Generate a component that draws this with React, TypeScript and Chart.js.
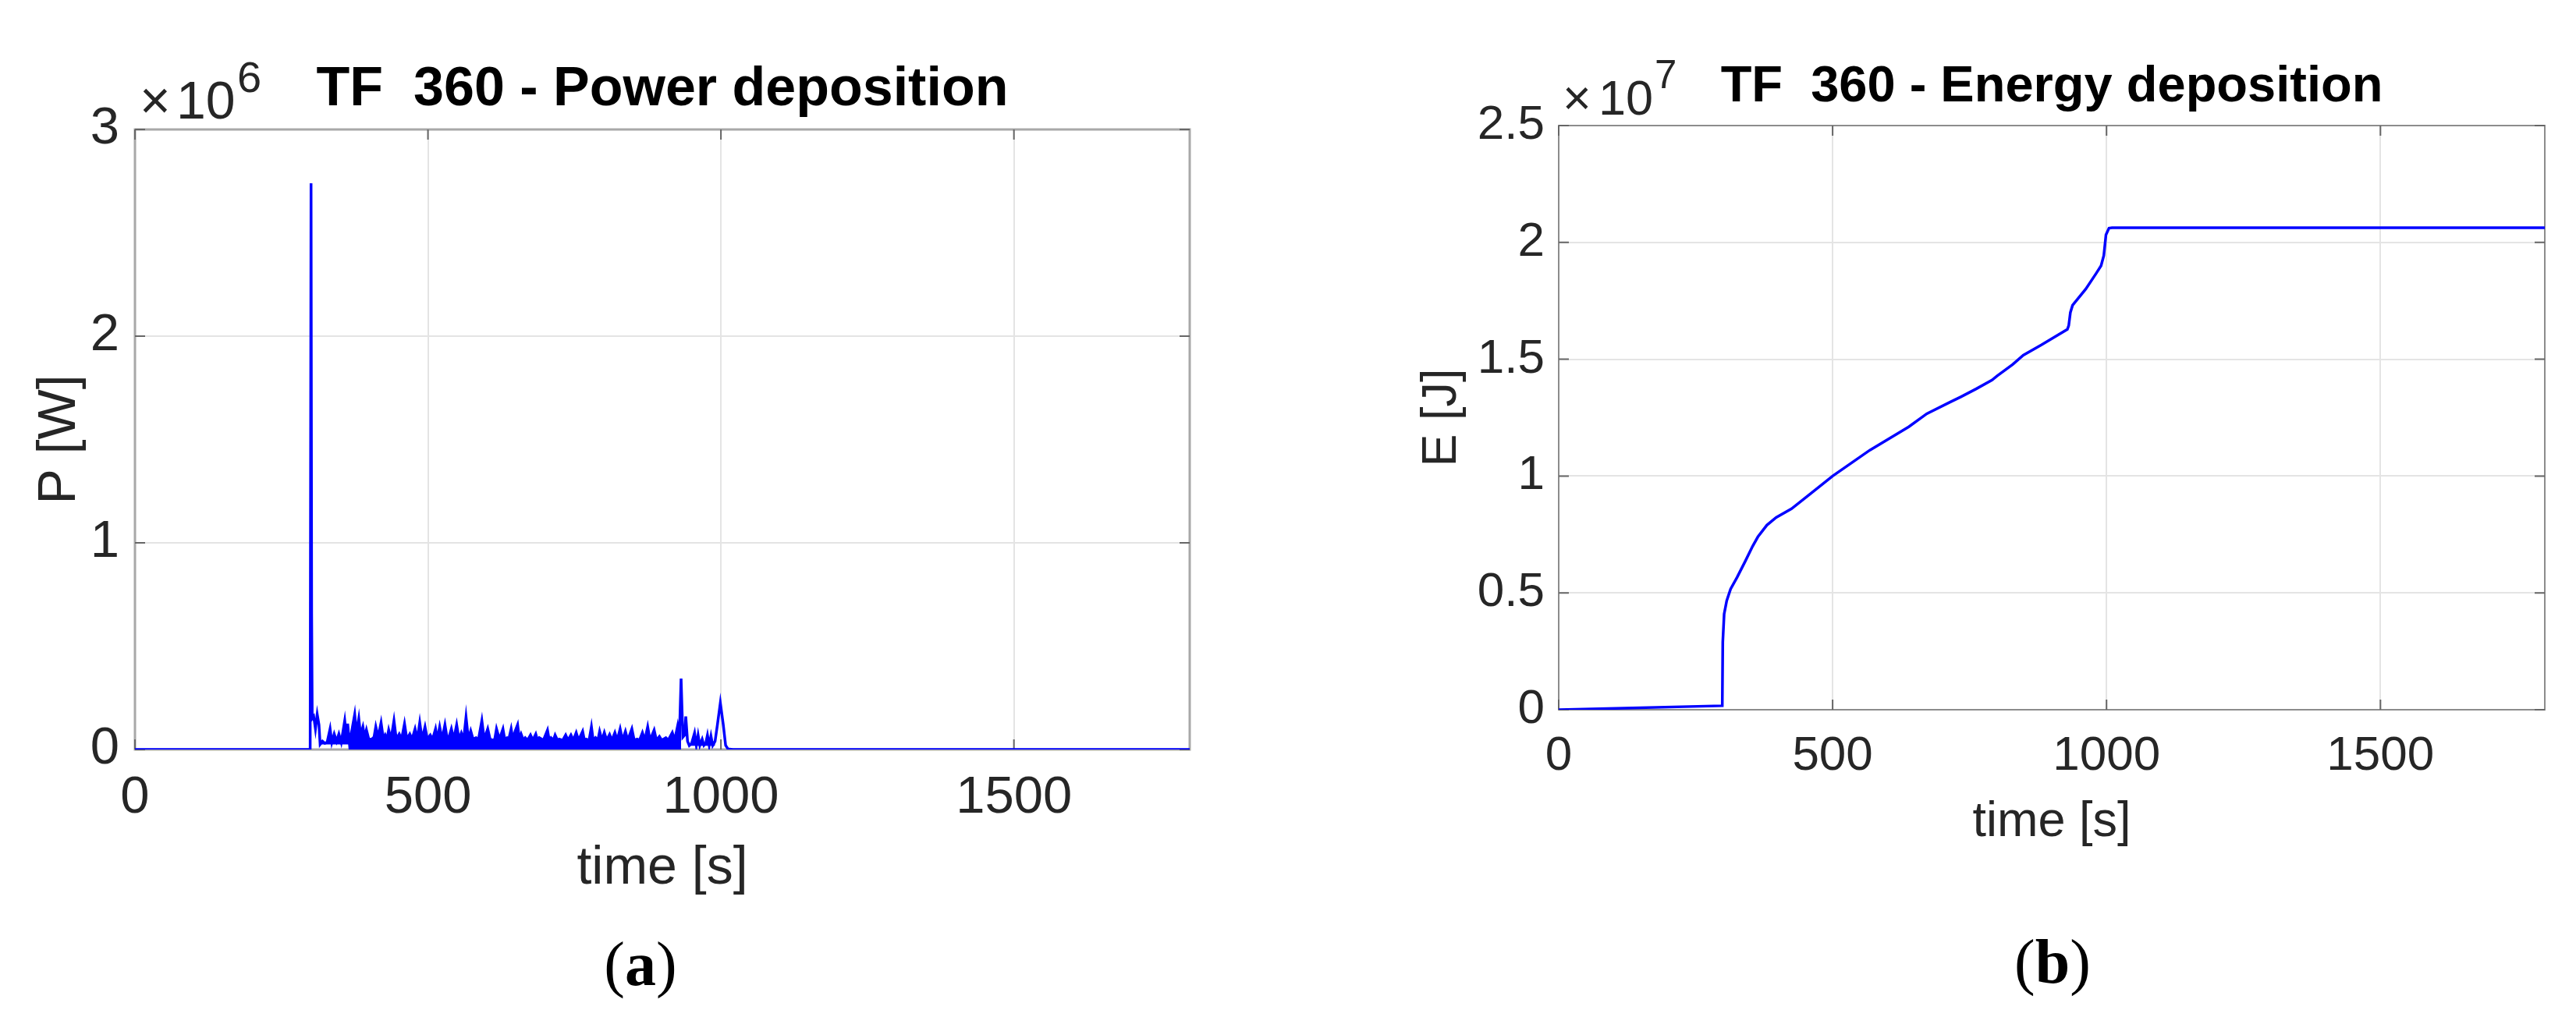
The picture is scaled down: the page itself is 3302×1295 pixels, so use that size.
import React, { useEffect, useRef } from "react";
import { Chart, registerables } from "chart.js";

Chart.register(...registerables);

const SANS = '"Liberation Sans", Arial, Helvetica, sans-serif';
const SERIF = '"Liberation Serif", "Times New Roman", Times, serif';

// ---------- Panel (a): power deposition, P in units of 1e6 W ----------
const powerTime = [
  0, 299, 300.5, 301.5, 302.5, 305, 308, 311, 314, 316, 320, 324, 328, 333, 336, 340, 344, 348, 352, 358, 361, 363, 366,
  370, 375, 378, 382, 385, 389, 392, 395, 399, 404, 408, 411, 415, 420, 424, 427, 430, 433, 437, 442,
  446, 451, 455, 460, 464, 469, 473, 478, 482, 486, 490, 495, 499,
  504, 508, 513, 516, 520, 524, 529, 533, 536, 540, 544, 549, 553, 557, 561, 565, 569, 573, 577, 582,
  586, 592, 596, 602, 606, 611, 614, 617, 622, 628, 631, 635, 638, 642, 645, 649,
  653, 656, 659, 663, 666, 670, 675, 679, 684, 687, 690, 697, 704, 707, 710, 714, 717, 721, 724, 730,
  735, 739, 744, 748, 753, 757, 764, 767, 770, 775, 779, 782, 786, 790, 793, 797, 801, 805, 810, 814,
  819, 823, 828, 832, 837, 841, 848, 852, 857, 861, 866, 870, 875, 879, 886, 890, 895, 899, 906, 910,
  917, 921, 926, 929,
  932, 935, 938, 940, 943, 946, 950, 955, 958, 961, 964, 968, 971, 974, 977, 980, 983, 986, 990, 994,
  999, 1004, 1008, 1012, 1020, 1800,
];
const powerValue = [
  0, 0, 2.74, 0.66, 0.15, 0.16, 0.1, 0.17, 0.12, 0.025, 0.04, 0.03, 0.035, 0.1, 0.035, 0.075, 0.04, 0.075, 0.035, 0.14, 0.06, 0.125, 0.03,
  0.09, 0.17, 0.08, 0.15, 0.07, 0.11, 0.06, 0.095, 0.05, 0.05, 0.06, 0.11, 0.06, 0.13, 0.05, 0.07, 0.05, 0.095, 0.05, 0.14,
  0.05, 0.075, 0.05, 0.125, 0.05, 0.075, 0.05, 0.1, 0.05, 0.13, 0.05, 0.11, 0.05,
  0.07, 0.05, 0.1, 0.05, 0.11, 0.05, 0.12, 0.05, 0.06, 0.1, 0.05, 0.12, 0.05, 0.08, 0.05, 0.157, 0.05, 0.09, 0.05, 0.057,
  0.045, 0.14, 0.05, 0.1, 0.05, 0.045, 0.05, 0.1, 0.05, 0.1, 0.05, 0.057, 0.05, 0.1, 0.05, 0.09,
  0.12, 0.05, 0.075, 0.045, 0.057, 0.045, 0.07, 0.045, 0.075, 0.045, 0.057, 0.045, 0.094, 0.045, 0.057, 0.045, 0.07, 0.045, 0.05, 0.045,
  0.07, 0.045, 0.07, 0.045, 0.082, 0.045, 0.088, 0.045, 0.05, 0.045, 0.11, 0.045, 0.057, 0.045, 0.088, 0.045, 0.082, 0.045, 0.073, 0.045,
  0.082, 0.045, 0.1, 0.045, 0.088, 0.045, 0.1, 0.045, 0.05, 0.045, 0.082, 0.045, 0.11, 0.045, 0.094, 0.045, 0.063, 0.045, 0.057, 0.045,
  0.082, 0.045, 0.113, 0.05,
  0.343, 0.06, 0.07, 0.16, 0.04, 0.019, 0.03, 0.08, 0.02, 0.07, 0.02, 0.05, 0.02, 0.03, 0.07, 0.02, 0.065, 0.02, 0.04, 0.12,
  0.226, 0.12, 0.02, 0.003, 0, 0,
];
// dense-noise stretches drawn as filled bands: [from, to, floor level]
const powerBands = [
  [316, 366, 0.025],
  [366, 932, 0],
  [946, 990, 0.018],
];
const powerYTicks = [0, 1, 2, 3];

// ---------- Panel (b): energy deposition, E in units of 1e7 J ----------
const energyTime = [
  0, 298.6, 299.5, 302, 306.7, 313.8, 325.7, 340, 354, 363.6,
  380, 397, 425, 459, 500, 568, 639, 672, 715, 734,
  762, 791, 800, 829, 848, 881, 928.5, 931, 934, 938,
  962, 981, 990, 995, 999, 1004.5, 1010, 1800,
];
const energyValue = [
  0, 0.017, 0.29, 0.41, 0.467, 0.517, 0.567, 0.633, 0.7, 0.74,
  0.79, 0.823, 0.86, 0.923, 1.0, 1.111, 1.211, 1.267, 1.317, 1.339,
  1.373, 1.411, 1.428, 1.478, 1.517, 1.561, 1.628, 1.644, 1.7, 1.731,
  1.8, 1.867, 1.9, 1.944, 2.033, 2.061, 2.063, 2.063,
];
const energyYTicks = [0, 0.5, 1, 1.5, 2, 2.5];
const timeTicks = [0, 500, 1000, 1500];

const BLUE = "#0000ff";

function toPoints(ts: number[], vs: number[]) {
  return ts.map((t, i) => ({ x: t, y: vs[i] }));
}

const decorPlugin = {
  id: "decor",
  beforeDatasetsDraw(chart: any, _a: any, o: any) {
    const { ctx, chartArea: a } = chart;
    ctx.save();
    ctx.strokeStyle = o.boxColor;
    ctx.lineWidth = o.boxWidth;
    ctx.strokeRect(a.left, a.top, a.right - a.left, a.bottom - a.top);
    ctx.strokeStyle = o.tickColor;
    ctx.lineWidth = 2;
    const L = 13;
    const xs = chart.scales.x;
    const ys = chart.scales.y;
    ctx.beginPath();
    xs.ticks.forEach((t: any) => {
      const px = xs.getPixelForValue(t.value);
      ctx.moveTo(px, a.bottom);
      ctx.lineTo(px, a.bottom - L);
      ctx.moveTo(px, a.top);
      ctx.lineTo(px, a.top + L);
    });
    ys.ticks.forEach((t: any) => {
      const py = ys.getPixelForValue(t.value);
      ctx.moveTo(a.left, py);
      ctx.lineTo(a.left + L, py);
      ctx.moveTo(a.right, py);
      ctx.lineTo(a.right - L, py);
    });
    ctx.stroke();
    ctx.restore();
  },
  afterDraw(chart: any, _a: any, o: any) {
    const { ctx, chartArea: a } = chart;
    const cx = (a.left + a.right) / 2;
    ctx.save();
    ctx.textBaseline = "alphabetic";
    // title
    ctx.fillStyle = "#000";
    ctx.textAlign = "center";
    ctx.font = `bold ${o.titleSize}px ${SANS}`;
    ctx.fillText(o.title, cx, a.top + o.titleDy);
    // exponent  x10^n
    ctx.fillStyle = "#262626";
    ctx.textAlign = "left";
    ctx.font = `${o.expSize}px ${SANS}`;
    ctx.fillText("\u00d7", a.left + o.timesDx, a.top + o.expDy);
    ctx.fillText("10", a.left + o.tenDx, a.top + o.expDy);
    ctx.font = `${o.supSize}px ${SANS}`;
    ctx.fillText(o.sup, a.left + o.supDx, a.top + o.supDy);
    // x label
    ctx.textAlign = "center";
    ctx.font = `${o.labelSize}px ${SANS}`;
    ctx.fillText(o.xLabel, cx, a.bottom + o.xLabelDy);
    // y label
    ctx.save();
    ctx.translate(a.left - o.yLabelDx, (a.top + a.bottom) / 2);
    ctx.rotate(-Math.PI / 2);
    ctx.fillText(o.yLabel, 0, 0);
    ctx.restore();
    // caption  (a) / (b)
    ctx.fillStyle = "#000";
    ctx.textAlign = "left";
    const reg = `${o.capSize}px ${SERIF}`;
    const bold = `bold ${o.capSize}px ${SERIF}`;
    ctx.font = reg;
    const wl = ctx.measureText("(").width;
    const wr = ctx.measureText(")").width;
    ctx.font = bold;
    const wm = ctx.measureText(o.capLetter).width;
    let x = o.capX - (wl + wm + wr) / 2;
    ctx.font = reg;
    ctx.fillText("(", x, o.capY);
    x += wl;
    ctx.font = bold;
    ctx.fillText(o.capLetter, x, o.capY);
    x += wm;
    ctx.font = reg;
    ctx.fillText(")", x, o.capY);
    ctx.restore();
  },
};

function makeConfig(p: any) {
  return {
    type: "line",
    data: { datasets: p.datasets },
    options: {
      animation: false,
      responsive: false,
      maintainAspectRatio: false,
      devicePixelRatio: 1,
      events: [],
      layout: { padding: p.padding },
      elements: { point: { radius: 0 }, line: { tension: 0 } },
      plugins: {
        legend: { display: false },
        tooltip: { enabled: false },
        title: { display: false },
        decor: p.decor,
      },
      scales: {
        x: {
          type: "linear",
          min: 0,
          max: 1800,
          afterBuildTicks: (s: any) => {
            s.ticks = timeTicks.map((v) => ({ value: v }));
          },
          ticks: {
            autoSkip: false,
            maxRotation: 0,
            padding: p.xTickPad,
            color: "#262626",
            font: { family: SANS, size: p.tickSize },
            callback: (v: any) => String(v),
          },
          grid: { color: "#e4e4e4", lineWidth: 2, drawTicks: false },
          border: { display: false },
          afterFit: (s: any) => {
            s.height = p.xAxisHeight;
          },
        },
        y: {
          type: "linear",
          min: p.yTicks[0],
          max: p.yTicks[p.yTicks.length - 1],
          afterBuildTicks: (s: any) => {
            s.ticks = p.yTicks.map((v: number) => ({ value: v }));
          },
          ticks: {
            autoSkip: false,
            padding: p.yTickPad,
            color: "#262626",
            font: { family: SANS, size: p.tickSize },
            callback: (v: any) => String(v),
          },
          grid: { color: "#e4e4e4", lineWidth: 2, drawTicks: false },
          border: { display: false },
          afterFit: (s: any) => {
            s.width = p.yAxisWidth;
          },
        },
      },
    },
    plugins: [decorPlugin],
  };
}

function powerDatasets() {
  const all = toPoints(powerTime, powerValue);
  const bands = powerBands.map(([lo, hi, floor]) => ({
    data: all.filter((pt) => pt.x >= lo && pt.x <= hi),
    borderWidth: 0,
    borderColor: BLUE,
    backgroundColor: BLUE,
    fill: floor === 0 ? "origin" : { value: floor },
    pointRadius: 0,
  }));
  return [
    { data: all, borderColor: BLUE, borderWidth: 3.5, fill: false, pointRadius: 0 },
    ...bands,
  ];
}

export default function App() {
  const aRef = useRef<HTMLCanvasElement>(null);
  const bRef = useRef<HTMLCanvasElement>(null);

  useEffect(() => {
    const ca = new Chart(
      aRef.current as HTMLCanvasElement,
      makeConfig({
        datasets: powerDatasets(),
        padding: { left: 0, top: 166, right: 125, bottom: 0 },
        yAxisWidth: 173,
        xAxisHeight: 334,
        yTicks: powerYTicks,
        tickSize: 67,
        xTickPad: 22,
        yTickPad: 20,
        decor: {
          boxColor: "#a8a8a8",
          boxWidth: 3,
          tickColor: "#666666",
          title: "TF  360 - Power deposition",
          titleSize: 70,
          titleDy: -31,
          expSize: 68,
          timesDx: 6,
          tenDx: 53,
          expDy: -14,
          sup: "6",
          supSize: 56,
          supDx: 131,
          supDy: -48,
          labelSize: 68,
          xLabel: "time [s]",
          xLabelDy: 172,
          yLabel: "P [W]",
          yLabelDx: 77,
          capSize: 80,
          capLetter: "a",
          capX: 821,
          capY: 1263,
        },
      }) as any
    );
    const cb = new Chart(
      bRef.current as HTMLCanvasElement,
      makeConfig({
        datasets: [
          {
            data: toPoints(energyTime, energyValue),
            borderColor: BLUE,
            borderWidth: 3.5,
            fill: false,
            pointRadius: 0,
          },
        ],
        padding: { left: 0, top: 161, right: 40, bottom: 0 },
        yAxisWidth: 348,
        xAxisHeight: 385,
        yTicks: energyYTicks,
        tickSize: 62,
        xTickPad: 23,
        yTickPad: 18,
        decor: {
          boxColor: "#8c8c8c",
          boxWidth: 2,
          tickColor: "#666666",
          title: "TF  360 - Energy deposition",
          titleSize: 65,
          titleDy: -31,
          expSize: 63,
          timesDx: 5,
          tenDx: 51,
          expDy: -14,
          sup: "7",
          supSize: 51,
          supDx: 123,
          supDy: -48,
          labelSize: 63,
          xLabel: "time [s]",
          xLabelDy: 162,
          yLabel: "E [J]",
          yLabelDx: 132,
          capSize: 80,
          capLetter: "b",
          capX: 981,
          capY: 1260,
        },
      }) as any
    );
    return () => {
      ca.destroy();
      cb.destroy();
    };
  }, []);

  return (
    <div
      style={{
        position: "absolute",
        left: 0,
        top: 0,
        width: 3302,
        height: 1295,
        background: "#ffffff",
        overflow: "hidden",
      }}
    >
      <canvas
        ref={aRef}
        width={1650}
        height={1295}
        style={{ position: "absolute", left: 0, top: 0, width: 1650, height: 1295 }}
      />
      <canvas
        ref={bRef}
        width={1652}
        height={1295}
        style={{ position: "absolute", left: 1650, top: 0, width: 1652, height: 1295 }}
      />
    </div>
  );
}
